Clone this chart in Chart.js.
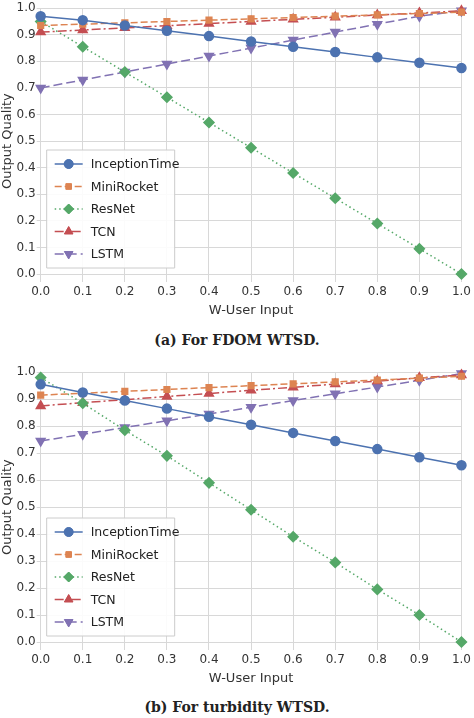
<!DOCTYPE html>
<html><head><meta charset="utf-8">
<script src="https://cdn.jsdelivr.net/npm/chart.js@4"></script>
<style>
body{margin:0;background:#fff;width:474px;height:718px;position:relative;overflow:hidden}
.c{position:absolute;left:0;width:474px}
.cap{position:absolute;left:0;width:474px;text-align:center;font-family:"DejaVu Serif",serif;font-size:14px;font-weight:bold;color:#222}
</style></head><body>
<div class="c" style="top:0;height:318px"><canvas id="a"></canvas></div>
<div class="cap" style="top:332px">(a) For FDOM WTSD.</div>
<div class="c" style="top:364px;height:322px"><canvas id="b"></canvas></div>
<div class="cap" style="top:699px">(b) For turbidity WTSD.</div>
<script>
const xLabels=[0,0.1,0.2,0.3,0.4,0.5,0.6,0.7,0.8,0.9,1.0];
const names=["InceptionTime","MiniRocket","ResNet","TCN","LSTM"];
const a_inception=[0.97,0.955,0.935,0.915,0.895,0.875,0.855,0.835,0.815,0.795,0.775];
const a_minirocket=[0.935,0.94,0.945,0.95,0.955,0.96,0.965,0.97,0.975,0.98,0.985];
const a_resnet=[0.95,0.855,0.76,0.665,0.57,0.475,0.38,0.285,0.19,0.095,0.0];
const a_tcn=[0.91,0.918,0.926,0.934,0.942,0.95,0.958,0.966,0.974,0.982,0.99];
const a_lstm=[0.70,0.73,0.76,0.79,0.82,0.85,0.88,0.91,0.94,0.97,0.99];
const b_inception=[0.955,0.925,0.895,0.865,0.835,0.805,0.775,0.745,0.715,0.685,0.655];
const b_minirocket=[0.915,0.922,0.929,0.936,0.943,0.95,0.957,0.964,0.971,0.978,0.985];
const b_resnet=[0.98,0.885,0.785,0.69,0.59,0.49,0.39,0.295,0.195,0.1,0.0];
const b_tcn=[0.875,0.887,0.898,0.91,0.921,0.933,0.944,0.956,0.967,0.979,0.99];
const b_lstm=[0.745,0.77,0.795,0.82,0.845,0.87,0.895,0.92,0.945,0.97,0.995];
const colors=["#4c72b0","#dd8452","#55a868","#c44e52","#8172b3"];
const dashes=[[],[7,3],[1.5,3],[9,3,2,3],[9,4]];
const shapes=["circle","rect","rectRot","triangle","triangle"];
const rots=[0,0,0,0,180];
const radii=[4.5,4,5,5,5];
function make(id,series){
 new Chart(document.getElementById(id),{type:"line",
 data:{labels:xLabels,datasets:series.map((s,i)=>({label:names[i],data:s.map((v,j)=>({x:xLabels[j],y:v})),
  borderColor:colors[i],backgroundColor:colors[i],borderWidth:1.5,borderDash:dashes[i],pointStyle:shapes[i],
  pointRotation:rots[i],pointRadius:radii[i],pointBackgroundColor:colors[i],pointBorderColor:colors[i],tension:0}))},
 options:{responsive:true,maintainAspectRatio:false,animation:false,clip:false,
  layout:{padding:{right:0,top:6,left:0}},
  plugins:{legend:{display:false},tooltip:{enabled:false}},
  scales:{x:{type:"linear",min:0,max:1,ticks:{stepSize:0.1,color:"#333",font:{size:12,family:"DejaVu Sans"},callback:v=>v.toFixed(1)},
   grid:{color:"#d8d8d8"},border:{display:false},title:{display:true,text:"W-User Input",color:"#333",font:{size:13,family:"DejaVu Sans"},padding:0}},
   y:{min:0,max:1,ticks:{stepSize:0.1,padding:1,color:"#333",font:{size:12,family:"DejaVu Sans"},callback:v=>v.toFixed(1)},
   grid:{color:"#d8d8d8",tickLength:4},border:{display:false},title:{display:true,text:"Output Quality",color:"#333",font:{size:13,family:"DejaVu Sans"},padding:0}}}},
 plugins:[{id:"lgf",afterDraw(ch){
   const c=ch.ctx,ca=ch.chartArea;const x0=ca.left+6,y0=ca.bottom-124;
   c.save();c.fillStyle="rgba(255,255,255,0.9)";c.strokeStyle="#ccc";c.lineWidth=1;
   c.beginPath();c.rect(x0,y0,128,118);c.fill();c.stroke();
   ch.data.datasets.forEach((d,i)=>{const y=y0+14+i*22.5;
    c.strokeStyle=d.borderColor;c.lineWidth=1.5;c.setLineDash(d.borderDash);
    c.beginPath();c.moveTo(x0+8,y);c.lineTo(x0+36,y);c.stroke();c.setLineDash([]);
    c.fillStyle=d.borderColor;c.strokeStyle=d.borderColor;c.lineWidth=1;
    Chart.helpers.drawPoint(c,{pointStyle:d.pointStyle,radius:d.pointRadius,rotation:d.pointRotation,borderWidth:1},x0+22,y);
    c.fill();
    c.fillStyle="#222";c.font="12.5px 'DejaVu Sans'";c.textBaseline="middle";c.fillText(d.label,x0+44,y+1);});
   c.restore();}}]});
}
make("a",[a_inception,a_minirocket,a_resnet,a_tcn,a_lstm]);
make("b",[b_inception,b_minirocket,b_resnet,b_tcn,b_lstm]);
</script></body></html>
